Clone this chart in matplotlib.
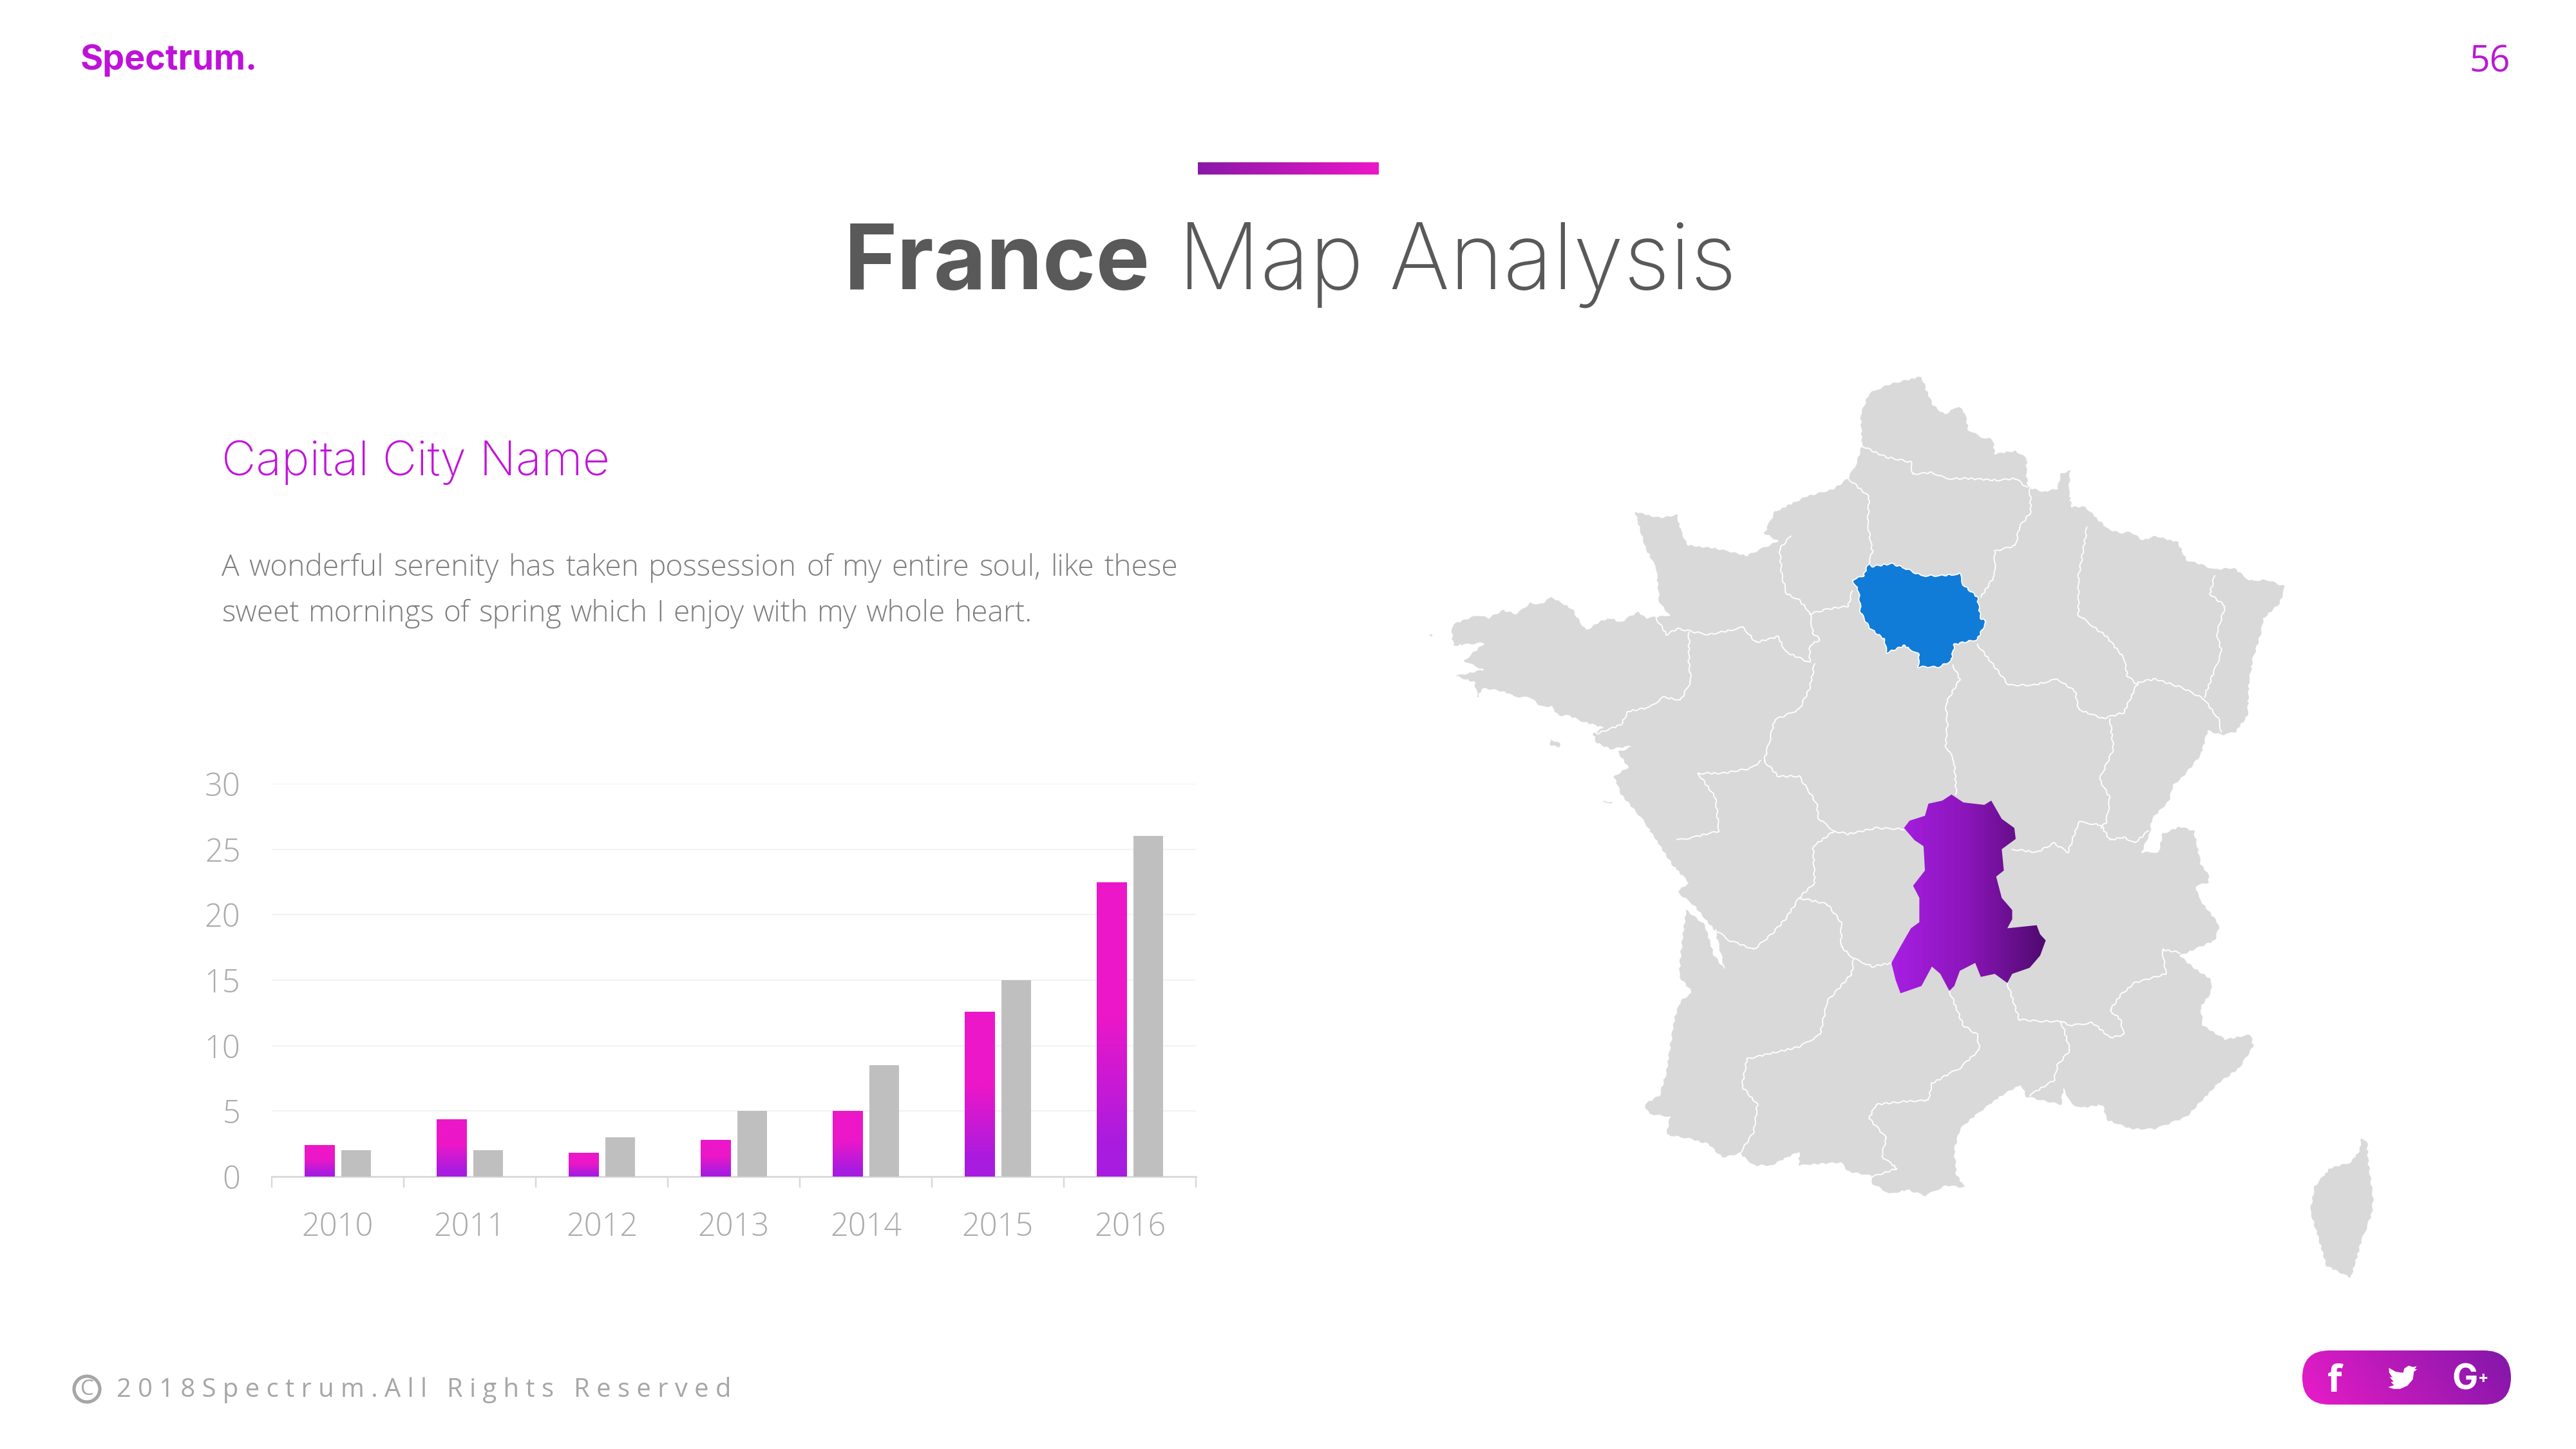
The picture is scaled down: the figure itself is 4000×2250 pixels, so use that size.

# plot.py - France map analysis slide: bar chart on the left, region map on the right
import numpy as np
import matplotlib
matplotlib.use("Agg")
import matplotlib.pyplot as plt
from matplotlib.colors import LinearSegmentedColormap
from matplotlib.patches import Polygon, FancyBboxPatch, Rectangle, Circle

# chart data
years = ["2010", "2011", "2012", "2013", "2014", "2015", "2016"]
series_pink = [2.4, 4.4, 1.8, 2.8, 5.0, 12.6, 22.5]
series_grey = [2.0, 2.0, 3.0, 5.0, 8.5, 15.0, 26.0]
y_ticks = [0, 5, 10, 15, 20, 25, 30]

# map shapes (units: 1568 x 1568 box)
france_outline = [
    (815,47),(822,70),(832,95),(848,110),(868,96),(878,108),(882,135),(900,147),(917,150),(920,175),
    (935,172),(950,170),(966,182),(965,205),(968,230),(990,237),(1010,232),(1015,207),(1028,202),(1026,235),
    (1030,262),(1050,262),(1070,285),(1082,298),(1100,305),(1115,303),(1132,317),(1150,310),(1182,320),(1195,350),
    (1212,355),(1235,365),(1262,362),(1285,383),(1310,382),(1336,393),(1328,420),(1305,445),(1300,475),(1290,510),
    (1284,550),(1282,605),(1265,632),(1245,637),(1225,630),(1215,670),(1190,705),(1175,720),(1170,745),(1145,775),
    (1142,800),(1130,830),(1155,830),(1160,800),(1185,788),(1205,795),(1210,820),(1215,850),(1228,870),(1225,880),
    (1208,885),(1212,905),(1225,925),(1242,950),(1235,975),(1205,990),(1185,1000),(1205,1020),(1230,1040),(1230,1060),
    (1215,1085),(1218,1115),(1250,1138),(1287,1130),(1290,1150),(1270,1185),(1240,1210),(1215,1240),(1195,1265),(1150,1285),
    (1115,1285),(1080,1270),(1075,1245),(1045,1250),(1030,1245),(1018,1218),(1015,1245),(965,1232),(958,1212),(930,1230),
    (895,1260),(870,1285),(862,1320),(865,1360),(877,1382),(850,1378),(820,1395),(795,1385),(770,1392),(745,1375),
    (742,1362),(710,1355),(700,1340),(640,1345),(640,1322),(600,1345),(575,1345),(555,1325),(530,1332),(510,1310),
    (480,1300),(450,1295),(455,1265),(425,1260),(418,1245),(440,1230),(450,1190),(462,1100),(470,1075),(487,1060),
    (472,1040),(468,1035),(470,1000),(478,925),(505,950),(518,1000),(533,1022),(520,960),(490,918),(465,895),
    (482,880),(458,850),(440,818),(415,775),(385,735),(375,705),(395,690),(380,665),(405,655),(422,670),
    (400,655),(370,660),(350,650),(345,635),(360,625),(330,615),(310,605),(295,605),(285,590),(270,590),(255,575),
    (240,575),(225,570),(215,565),(200,562),(185,560),(180,575),(175,550),(148,540),(188,530),(160,515),(190,485),
    (145,490),(142,460),(150,452),(180,440),(195,445),(215,432),(235,438),(255,420),(270,422),(285,410),(300,420),
    (315,430),(325,450),(335,465),(355,450),(370,445),(385,452),(400,440),(410,435),(420,445),(455,440),(440,420),
    (435,360),(420,330),(410,290),(405,270),(440,280),(465,275),(470,300),(480,325),(520,330),(565,342),
    (610,318),(590,305),(605,270),(650,245),(690,232),(710,215),(722,190),(730,160),(728,110),(740,75),(770,60),
]
corsica_outline = [
    (1445,1300),(1453,1305),(1455,1340),(1462,1400),(1460,1425),(1445,1470),(1435,1510),(1430,1530),(1395,1510),
    (1385,1470),(1372,1420),(1378,1380),(1400,1350),(1430,1340),(1443,1320),
]
small_islands = [
    [(283,643),(298,652),(298,657),(284,654)],
    [(360,745),(372,748),(364,750)],
    [(112,471),(117,473),(113,476)],
]
idf_outline = [
    (740,353),(745,360),(772,355),(790,362),(815,375),(840,375),(870,372),(875,390),(895,410),(900,445),(908,450),
    (895,480),(862,488),(858,515),(840,525),(810,525),(812,505),(790,490),(765,502),(762,480),(740,460),(728,435),
    (725,400),(716,382),(732,375),
]
auvergne_outline = [
    (858,735),(875,748),(905,752),(915,745),(930,775),(948,790),(950,808),(930,825),(933,860),(922,870),(930,905),
    (945,925),(945,940),(938,955),(980,950),(985,965),(993,975),(985,1000),(970,1020),(945,1030),(938,1045),(920,1030),
    (900,1035),(892,1012),(870,1025),(862,1050),(855,1058),(842,1030),(830,1018),(815,1050),(785,1062),(778,1040),
    (772,1012),(785,985),(800,955),(812,945),(812,905),(803,885),(820,860),(818,820),(805,810),(790,790),(798,778),
    (820,770),(825,750),(845,745),
]
region_borders = [
    [(728,160),(745,170),(765,180),(800,188),(802,208),(830,205),(850,215),(880,215),(925,218),(950,215),(966,230)],
    [(710,215),(740,245),(738,290),(745,335),(740,353)],
    [(970,232),(972,270),(955,295),(950,325),(920,335),(920,375),(900,410)],
    [(628,310),(612,330),(615,375),(622,405),(640,415),(655,435),(660,470),(670,480),(655,490),(655,515)],
    [(716,400),(710,425),(680,430),(655,438)],
    [(435,445),(450,472),(465,462),(510,472),(560,460),(578,485),(610,475),(620,500),(655,518)],
    [(482,468),(482,520),(485,548),(470,580),(445,575),(425,592),(395,598),(385,620),(350,635)],
    [(662,520),(655,560),(640,595),(605,612),(590,680)],
    [(495,700),(530,700),(570,692),(585,680)],
    [(495,700),(520,740),(525,795),(490,805),(465,810)],
    [(590,680),(610,705),(640,705),(665,750),(668,775),(690,795),(660,820),(662,880),(640,905)],
    [(690,795),(710,800),(750,790),(790,792)],
    [(860,522),(870,545),(850,585),(852,620),(850,655),(862,680),(865,735)],
    [(895,488),(920,525),(940,555),(975,555),(1010,545),(1035,565),(1040,595),(1075,610),(1105,600),(1125,550)],
    [(1052,295),(1045,345),(1040,375),(1040,440),(1080,475),(1105,510),(1110,540),(1125,555)],
    [(1235,375),(1228,405),(1250,425),(1238,470),(1245,500),(1220,575)],
    [(1125,550),(1150,545),(1190,560),(1220,578),(1240,610),(1245,632)],
    [(1085,610),(1090,660),(1070,710),(1085,740),(1080,780),(1072,790)],
    [(945,825),(980,830),(1005,815),(1025,830),(1040,780),(1072,785),(1085,810),(1105,805),(1120,815),(1140,795)],
    [(938,1045),(955,1105),(985,1108),(1015,1108),(1030,1115),(1060,1110),(1085,1135),(1105,1130),(1100,1105),(1085,1090),(1100,1065),(1120,1045),(1165,1030),(1160,990),(1185,995)],
    [(1015,1108),(1028,1155),(1010,1180),(1005,1205),(970,1230)],
    [(855,1058),(875,1115),(895,1130),(898,1155),(870,1185),(830,1210),(825,1238),(790,1240),(750,1245),(740,1268),(765,1300),(758,1330),(780,1350),(742,1365)],
    [(718,1005),(715,1030),(680,1075),(670,1130),(640,1150),(565,1170),(558,1215),(580,1245),(575,1290),(555,1325)],
    [(640,905),(620,940),(600,965),(575,990),(540,975),(520,958)],
    [(640,905),(680,915),(700,945),(700,985),(718,1005),(745,1018),(772,1012)],
]
bird_shape = [
    (628,222),(660,240),(695,245),(700,225),(720,212),(740,218),(758,215),(748,228),(760,228),(745,240),(740,275),
    (715,305),(680,320),(650,320),(625,312),(652,303),(638,288),(650,286),(632,265),(645,267),(630,245),
]

body_lines = [
    "A wonderful serenity has taken possession of my entire soul, like these",
    "sweet mornings of spring which I enjoy with my whole heart.",
]
footer_text = "2 0 1 8 S p e c t r u m . A l l   R i g h t s   R e s e r v e d"

W, H = 4000, 2250
FONT_HEAD = "Inter"
FONT_BODY = "Open Sans"
PINK = "#EC17C8"
PURPLE = "#A81CE0"
GREY_TXT = "#ABABAB"

def px_axes(fig, x0, y0, x1, y1, **kw):
    # axes placed with picture pixels (y going down)
    return fig.add_axes([x0 / W, 1 - y1 / H, (x1 - x0) / W, (y1 - y0) / H], **kw)

def justified(ax, words, x0, x1, y, **kw):
    # one justified line, spaces stretched to fill x0..x1
    r = ax.figure.canvas.get_renderer()
    items = [ax.text(0, y, w, va="baseline", ha="left", **kw) for w in words]
    inv = ax.transData.inverted()
    widths = []
    for t in items:
        bb = t.get_window_extent(r)
        widths.append(inv.transform((bb.x1, 0))[0] - inv.transform((bb.x0, 0))[0])
    gap = (x1 - x0 - sum(widths)) / (len(words) - 1)
    x = x0
    for t, w in zip(items, widths):
        t.set_x(x)
        x += w + gap

fig = plt.figure(figsize=(16, 9), dpi=250, facecolor="white")

# slide layer in pixels
bg = fig.add_axes([0, 0, 1, 1], zorder=0)
bg.axis("off")
bg.set_xlim(0, W)
bg.set_ylim(H, 0)

bg.text(125, 108, "Spectrum.", family=FONT_HEAD, weight="bold", fontsize=15.5, color="#BE12D8", va="baseline")
bg.text(3898, 112, "56", family=FONT_BODY, fontsize=16, color="#B81AD0", ha="right", va="baseline")

# accent bar over the title
bar_cmap = LinearSegmentedColormap.from_list("bar", ["#8A18A8", PINK])
bg.imshow(np.linspace(0, 1, 256).reshape(1, -1), cmap=bar_cmap, extent=(1860, 2141, 271, 252), aspect="auto")

bg.text(1311, 449, "France", family=FONT_HEAD, weight="bold", fontsize=40.5, color="#595959", va="baseline")
bg.text(1829, 449, "Map Analysis", family=FONT_HEAD, weight="light", fontsize=41, color="#595959", va="baseline")
bg.text(344, 738, "Capital City Name", family=FONT_HEAD, weight="light", fontsize=21.2, color="#C015D8", va="baseline")

fig.canvas.draw()
justified(bg, body_lines[0].split(" "), 344, 1829, 894, family=FONT_BODY, weight="light", fontsize=13.3, color="#7F7F7F")
justified(bg, body_lines[1].split(" "), 344, 1603, 965, family=FONT_BODY, weight="light", fontsize=13.3, color="#7F7F7F")

# footer
bg.add_patch(Circle((135, 2157), 20, fill=False, ec="#A6A6A6", lw=1.5))
bg.text(135, 2158, "C", family=FONT_BODY, fontsize=9.5, color="#A6A6A6", ha="center", va="center")
bg.text(181, 2169, footer_text, family=FONT_BODY, fontsize=11.5, color="#A6A6A6", va="baseline")

# social pill
pill = FancyBboxPatch((3617, 2139), 240, 0.01, boxstyle="round,pad=42", fc="none", ec="none")
bg.add_patch(pill)
pill_cmap = LinearSegmentedColormap.from_list("pill", ["#E81CC8", "#8217A8"])
gx, gy = np.meshgrid(np.linspace(0, 1, 200), np.linspace(0, 1, 60))
pill_im = bg.imshow(gx * 0.85 + (1 - gy) * 0.15, cmap=pill_cmap, extent=(3575, 3899, 2181, 2097), aspect="auto")
pill_im.set_clip_path(pill)
bg.text(3625, 2161, "f", family=FONT_BODY, weight="bold", fontsize=16.7, color="white", ha="center", va="baseline")
bg.add_patch(Polygon([(3500 + x / 3, 2050 + y / 3) for x, y in bird_shape], fc="white", ec="none"))
bg.text(3828, 2143, "G", family=FONT_HEAD, weight="bold", fontsize=15.4, color="white", ha="center", va="center")
bg.text(3856, 2140, "+", family=FONT_HEAD, weight="bold", fontsize=7, color="white", ha="center", va="center")
bg.set_xlim(0, W)
bg.set_ylim(H, 0)

# map
mp = px_axes(fig, 2100, 540, 3800, 2020, zorder=1)
mp.axis("off")
mp.set_xlim(0, 1568)
mp.set_ylim(1568, 0)
WIGGLE = (1.1, 22, 5)
for shape in [france_outline, corsica_outline] + small_islands:
    p = Polygon(shape, fc="#D9D9D9", ec="none")
    p.set_sketch_params(*WIGGLE)
    mp.add_patch(p)
for line in region_borders:
    xs, ys = zip(*line)
    l, = mp.plot(xs, ys, color="white", lw=0.55, solid_joinstyle="round")
    l.set_sketch_params(*WIGGLE)
idf = Polygon(idf_outline, fc="#117BD8", ec="white", lw=0.5, zorder=4)
idf.set_sketch_params(*WIGGLE)
mp.add_patch(idf)
auv = Polygon(auvergne_outline, fc="none", ec="none", zorder=4)
auv.set_sketch_params(*WIGGLE)
mp.add_patch(auv)
auv_cmap = LinearSegmentedColormap.from_list("auv", ["#A81FE4", "#8A15B8", "#4E0A6E"])
auv_im = mp.imshow(np.linspace(0, 1, 256).reshape(1, -1), cmap=auv_cmap, extent=(772, 993, 1062, 735),
                   aspect="auto", zorder=5)
auv_im.set_clip_path(auv)
mp.set_xlim(0, 1568)
mp.set_ylim(1568, 0)

# bar chart
ax = px_axes(fig, 422, 1217, 1857, 1827, zorder=2)
ax.patch.set_alpha(0)
x = np.arange(len(years))
bw = 0.225
off = 0.14
pink_bars = ax.bar(x - off, series_pink, bw, color=PINK, zorder=3)
ax.bar(x + off, series_grey, bw, color="#BFBFBF", zorder=3)

grad_cmap = LinearSegmentedColormap.from_list("pink", [(0, PURPLE), (0.1, PURPLE), (0.55, PINK), (1, PINK)])
grad = np.linspace(1, 0, 256).reshape(-1, 1)
for b in pink_bars:
    x0, w, h = b.get_x(), b.get_width(), b.get_height()
    im = ax.imshow(grad, cmap=grad_cmap, vmin=0, vmax=1, extent=(x0, x0 + w, 0, h), aspect="auto", zorder=4)
    im.set_clip_path(Rectangle((x0, 0), w, h, transform=ax.transData))

ax.set_xlim(-0.5, len(years) - 0.5)
ax.set_ylim(0, 30)
ax.set_yticks(y_ticks)
ax.set_xticks(np.arange(len(years) + 1) - 0.5)
ax.set_xticklabels([])
ax.set_xticks(x, minor=True)
ax.set_xticklabels(years, minor=True)
ax.tick_params(axis="x", which="major", length=5, width=0.7, color="#D9D9D9")
ax.tick_params(axis="x", which="minor", length=0, pad=15.5, labelsize=14, labelcolor=GREY_TXT)
ax.tick_params(axis="y", length=0, pad=14, labelsize=14, labelcolor=GREY_TXT)
for lab in ax.get_xticklabels(minor=True) + ax.get_yticklabels():
    lab.set_family(FONT_BODY)
    lab.set_weight("light")
ax.grid(axis="y", color="#F2F2F2", lw=0.6, zorder=0)
ax.set_axisbelow(True)
for side in ["top", "left", "right"]:
    ax.spines[side].set_visible(False)
ax.spines["bottom"].set_color("#D9D9D9")
ax.spines["bottom"].set_linewidth(0.8)

fig.savefig("out.png", dpi=250)
